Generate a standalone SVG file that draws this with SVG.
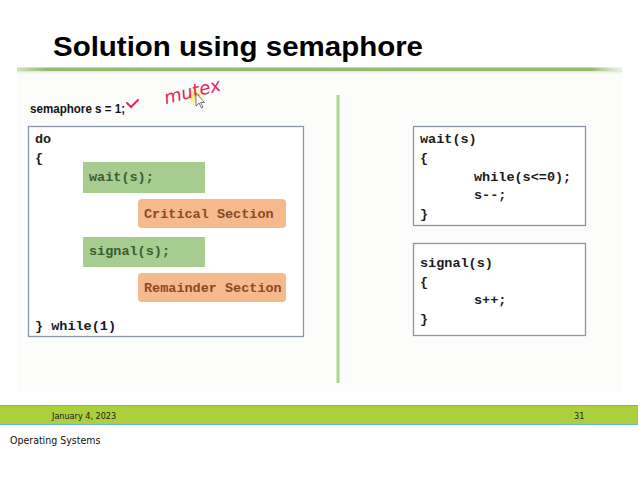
<svg xmlns="http://www.w3.org/2000/svg" width="638" height="478" viewBox="0 0 638 478">
<defs>
<linearGradient id="rule" x1="0" y1="0" x2="1" y2="0">
<stop offset="0" stop-color="#9fbf7a" stop-opacity="0.5"/>
<stop offset="0.05" stop-color="#94b86c"/>
<stop offset="0.95" stop-color="#94b86c"/>
<stop offset="1" stop-color="#cfe0b8" stop-opacity="0.4"/>
</linearGradient>
<linearGradient id="ruleV" x1="0" y1="0" x2="0" y2="1">
<stop offset="0" stop-color="#8fb468"/>
<stop offset="1" stop-color="#eef5e4" stop-opacity="0"/>
</linearGradient>
<radialGradient id="glow">
<stop offset="0" stop-color="#f5e04a" stop-opacity="0.9"/>
<stop offset="1" stop-color="#f5e04a" stop-opacity="0"/>
</radialGradient>
</defs>
<style>
.title{font-family:"Liberation Sans",Arial,sans-serif;font-weight:bold;font-size:28px;fill:#000}
.sem{font-family:"Liberation Sans",Arial,sans-serif;font-weight:bold;font-size:12.5px;fill:#111}
.code{font-family:"Liberation Mono","Courier New",monospace;font-weight:bold;font-size:13.5px;fill:#1a1a1a}
.gcode{font-family:"Liberation Mono","Courier New",monospace;font-weight:bold;font-size:13.5px;fill:#3d5a33}
.ocode{font-family:"Liberation Mono","Courier New",monospace;font-weight:bold;font-size:13.5px;fill:#8a4a22}
.box{fill:#ffffff;stroke:#8b95aa;stroke-width:1.3}
.gbox{fill:#a6cc90}
.obox{fill:#f6b98c}
.foot{font-family:"DejaVu Sans Condensed","DejaVu Sans",sans-serif;font-size:9px;fill:#1a1a1a}
.os{font-family:"DejaVu Sans Condensed","DejaVu Sans",sans-serif;font-size:10.5px;fill:#111}
</style>
<rect width="638" height="478" fill="#ffffff"/>
<text class="title" x="53" y="56" textLength="370" lengthAdjust="spacingAndGlyphs">Solution using semaphore</text>
<rect x="17" y="70" width="605" height="322" fill="#fcfdfb"/>
<rect x="17" y="67.5" width="605" height="3.5" fill="url(#rule)"/>
<rect x="17" y="71" width="605" height="4" fill="url(#ruleV)" opacity="0.3"/>
<text class="sem" x="30" y="113" textLength="95" lengthAdjust="spacingAndGlyphs">semaphore s = 1;</text>
<path d="M127 103 L131 107 L138 100" fill="none" stroke="#e0245e" stroke-width="2" stroke-linecap="round"/>
<circle cx="195" cy="96" r="10" fill="url(#glow)"/>
<text x="163" y="98" transform="rotate(-14 190 90)" font-family="DejaVu Sans,sans-serif" font-style="italic" font-size="18" fill="#e0245e">mutex</text>
<path d="M196 93 L196 106 L199 103 L201.5 108 L203 107.3 L200.8 102.5 L204.5 102.5 Z" fill="#ffffff" stroke="#555" stroke-width="0.8"/>
<line x1="338" y1="95" x2="338" y2="383" stroke="#a9d891" stroke-width="3"/>
<g id="main-loop">
<rect class="box" x="28.5" y="126.5" width="275" height="210"/>
<text class="code" x="35" y="143">do</text>
<text class="code" x="35" y="162">{</text>
<text class="code" x="35" y="330">} while(1)</text>
</g>
<g id="wait-call">
<rect class="gbox" x="83" y="162" width="122" height="31"/>
<text class="gcode" x="89" y="181">wait(s);</text>
</g>
<g id="critical-section">
<rect class="obox" x="138" y="199" width="148" height="29" rx="4"/>
<text class="ocode" x="144" y="218">Critical Section</text>
</g>
<g id="signal-call">
<rect class="gbox" x="83" y="237" width="122" height="30"/>
<text class="gcode" x="89" y="255">signal(s);</text>
</g>
<g id="remainder-section">
<rect class="obox" x="138" y="273" width="148" height="29" rx="4"/>
<text class="ocode" x="144" y="292">Remainder Section</text>
</g>
<g id="wait-def">
<rect class="box" x="413.5" y="126.5" width="172" height="99"/>
<text class="code" x="420" y="143">wait(s)</text>
<text class="code" x="420" y="162">{</text>
<text class="code" x="474" y="181">while(s&lt;=0);</text>
<text class="code" x="474" y="199">s--;</text>
<text class="code" x="420" y="218">}</text>
</g>
<g id="signal-def">
<rect class="box" x="413.5" y="243.5" width="172" height="92"/>
<text class="code" x="420" y="267">signal(s)</text>
<text class="code" x="420" y="286">{</text>
<text class="code" x="474" y="304">s++;</text>
<text class="code" x="420" y="323">}</text>
</g>
<g id="connectors"></g>
<rect x="0" y="405" width="638" height="20" fill="#acd03c"/>
<line x1="0" y1="405.5" x2="638" y2="405.5" stroke="#6ab4cf" stroke-width="1"/>
<line x1="0" y1="424.5" x2="638" y2="424.5" stroke="#6ab4cf" stroke-width="1"/>
<text class="foot" x="52" y="419">January 4, 2023</text>
<text class="foot" x="574" y="419">31</text>
<text class="os" x="10" y="444">Operating Systems</text>
</svg>
